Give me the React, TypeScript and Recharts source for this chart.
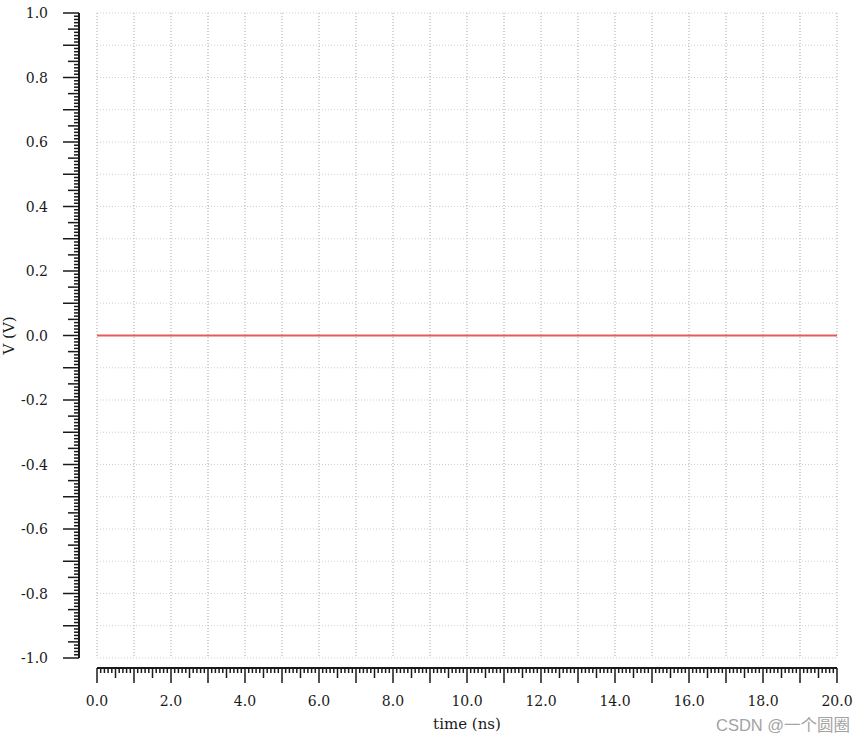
import * as React from 'react'
import { CartesianGrid, Line, LineChart, XAxis, YAxis } from 'recharts'

const W = 865
const H = 740

// transient result: node voltage stays at 0 V over the whole run
const timeNs = [0, 20]
const voltage = [0, 0]

const xDomain: [number, number] = [0, 20]
const yDomain: [number, number] = [-1, 1]
const xLabelTicks = [0, 2, 4, 6, 8, 10, 12, 14, 16, 18, 20]
const yLabelTicks = [-1, -0.8, -0.6, -0.4, -0.2, 0, 0.2, 0.4, 0.6, 0.8, 1]

const xMinorStep = 0.1
const yMinorStep = 0.01
const xGridMinor = 0.5
const xGridMajor = 1
const yGridMinor = 0.05
const yGridMajor = 0.1

const data = timeNs.map((t, i) => ({ t, v: voltage[i] }))

const steps = (lo: number, hi: number, step: number) =>
  Array.from({ length: Math.round((hi - lo) / step) + 1 }, (_, i) => +(lo + i * step).toFixed(4))

const serif = '"DejaVu Serif", serif'
const ink = '#1a1a1a'

const near = (list: number[], v: number) => list.some((l) => Math.abs(l - v) < 1e-6)

function YTick(props: any) {
  const { x, y, payload } = props
  const k = Math.round(payload.value / yMinorStep)
  const len = k % 10 === 0 ? 16 : k % 5 === 0 ? 11 : 5
  return (
    <g>
      <line x1={x - len} x2={x} y1={y} y2={y} stroke={ink} strokeWidth={1.5} />
      {near(yLabelTicks, payload.value) && (
        <text x={x - 31} y={y} dy="0.36em" textAnchor="end" fontSize={14} fontFamily={serif} fill={ink}>
          {payload.value.toFixed(1)}
        </text>
      )}
    </g>
  )
}

function XTick(props: any) {
  const { x, y, payload } = props
  const k = Math.round(payload.value / xMinorStep)
  const len = k % 10 === 0 ? 15 : k % 5 === 0 ? 10 : 5
  return (
    <g>
      <line x1={x} x2={x} y1={y} y2={y + len} stroke={ink} strokeWidth={1.5} />
      {near(xLabelTicks, payload.value) && (
        <text x={x} y={y + 33} dy="0.36em" textAnchor="middle" fontSize={14} fontFamily={serif} fill={ink}>
          {payload.value.toFixed(1)}
        </text>
      )}
    </g>
  )
}

const layer: React.CSSProperties = { position: 'absolute', left: 0, top: 0 }

export default function App() {
  return (
    <div style={{ position: 'absolute', left: 0, top: 0, width: W, height: H, background: '#fff' }}>
      {/* plot: grid + trace */}
      <div style={layer}>
        <LineChart width={W} height={H} data={data} margin={{ top: 13, right: 28, bottom: 82, left: 97 }}>
          <XAxis xAxisId="minor" dataKey="t" type="number" domain={xDomain} ticks={steps(0, 20, xGridMinor)} allowDataOverflow hide />
          <XAxis xAxisId="major" dataKey="t" type="number" domain={xDomain} ticks={steps(0, 20, xGridMajor)} allowDataOverflow hide />
          <YAxis yAxisId="minor" type="number" domain={yDomain} ticks={steps(-1, 1, yGridMinor)} allowDataOverflow hide />
          <YAxis yAxisId="major" type="number" domain={yDomain} ticks={steps(-1, 1, yGridMajor)} allowDataOverflow hide />
          <CartesianGrid xAxisId="minor" yAxisId="minor" stroke="#cfcfcf" strokeDasharray="1 2" />
          <CartesianGrid xAxisId="major" yAxisId="major" stroke="#bdbdbd" strokeDasharray="1 2" horizontal={false} />
          <Line
            xAxisId="major"
            yAxisId="major"
            dataKey="v"
            stroke="#e35b5b"
            strokeWidth={2}
            dot={false}
            activeDot={false}
            isAnimationActive={false}
          />
        </LineChart>
      </div>

      {/* left axis, set off from the plot */}
      <div style={{ ...layer, pointerEvents: 'none' }}>
        <LineChart width={W} height={H} data={data} margin={{ top: 13, right: 28, bottom: 82, left: 0 }}>
          <XAxis dataKey="t" type="number" domain={xDomain} allowDataOverflow hide />
          <YAxis
            type="number"
            domain={yDomain}
            ticks={steps(-1, 1, yMinorStep)}
            interval={0}
            allowDataOverflow
            width={79}
            tickSize={0}
            tickMargin={0}
            tickLine={false}
            axisLine={{ stroke: ink, strokeWidth: 2 }}
            tick={<YTick />}
            label={{
              content: (p: any) => {
                const vb = p.viewBox || { x: 0, y: 13, height: 645 }
                const cx = vb.x + 9
                const cy = vb.y + vb.height / 2
                return (
                  <text
                    x={cx}
                    y={cy}
                    dy="0.36em"
                    textAnchor="middle"
                    transform={`rotate(-90 ${cx} ${cy})`}
                    fontSize={15}
                    fontFamily={serif}
                    fill={ink}
                  >
                    V (V)
                  </text>
                )
              },
            }}
          />
        </LineChart>
      </div>

      {/* bottom axis, set off from the plot */}
      <div style={{ ...layer, pointerEvents: 'none' }}>
        <LineChart width={W} height={H} data={data} margin={{ top: 13, right: 28, bottom: 0, left: 97 }}>
          <YAxis type="number" domain={yDomain} allowDataOverflow hide />
          <XAxis
            dataKey="t"
            type="number"
            domain={xDomain}
            ticks={steps(0, 20, xMinorStep)}
            interval={0}
            allowDataOverflow
            height={72}
            tickSize={0}
            tickMargin={0}
            tickLine={false}
            axisLine={{ stroke: ink, strokeWidth: 2 }}
            tick={<XTick />}
            label={{
              value: 'time (ns)',
              position: 'insideBottom',
              offset: 11,
              fontSize: 15,
              fontFamily: serif,
              fill: ink,
            }}
          />
        </LineChart>
      </div>

      <div
        style={{
          position: 'absolute',
          left: 716,
          top: 712,
          fontSize: 16.5,
          fontFamily: '"Liberation Sans", "Noto Sans CJK SC", sans-serif',
          color: '#a3a3a3',
          whiteSpace: 'nowrap',
        }}
      >
        CSDN @一个圆圈
      </div>
    </div>
  )
}
